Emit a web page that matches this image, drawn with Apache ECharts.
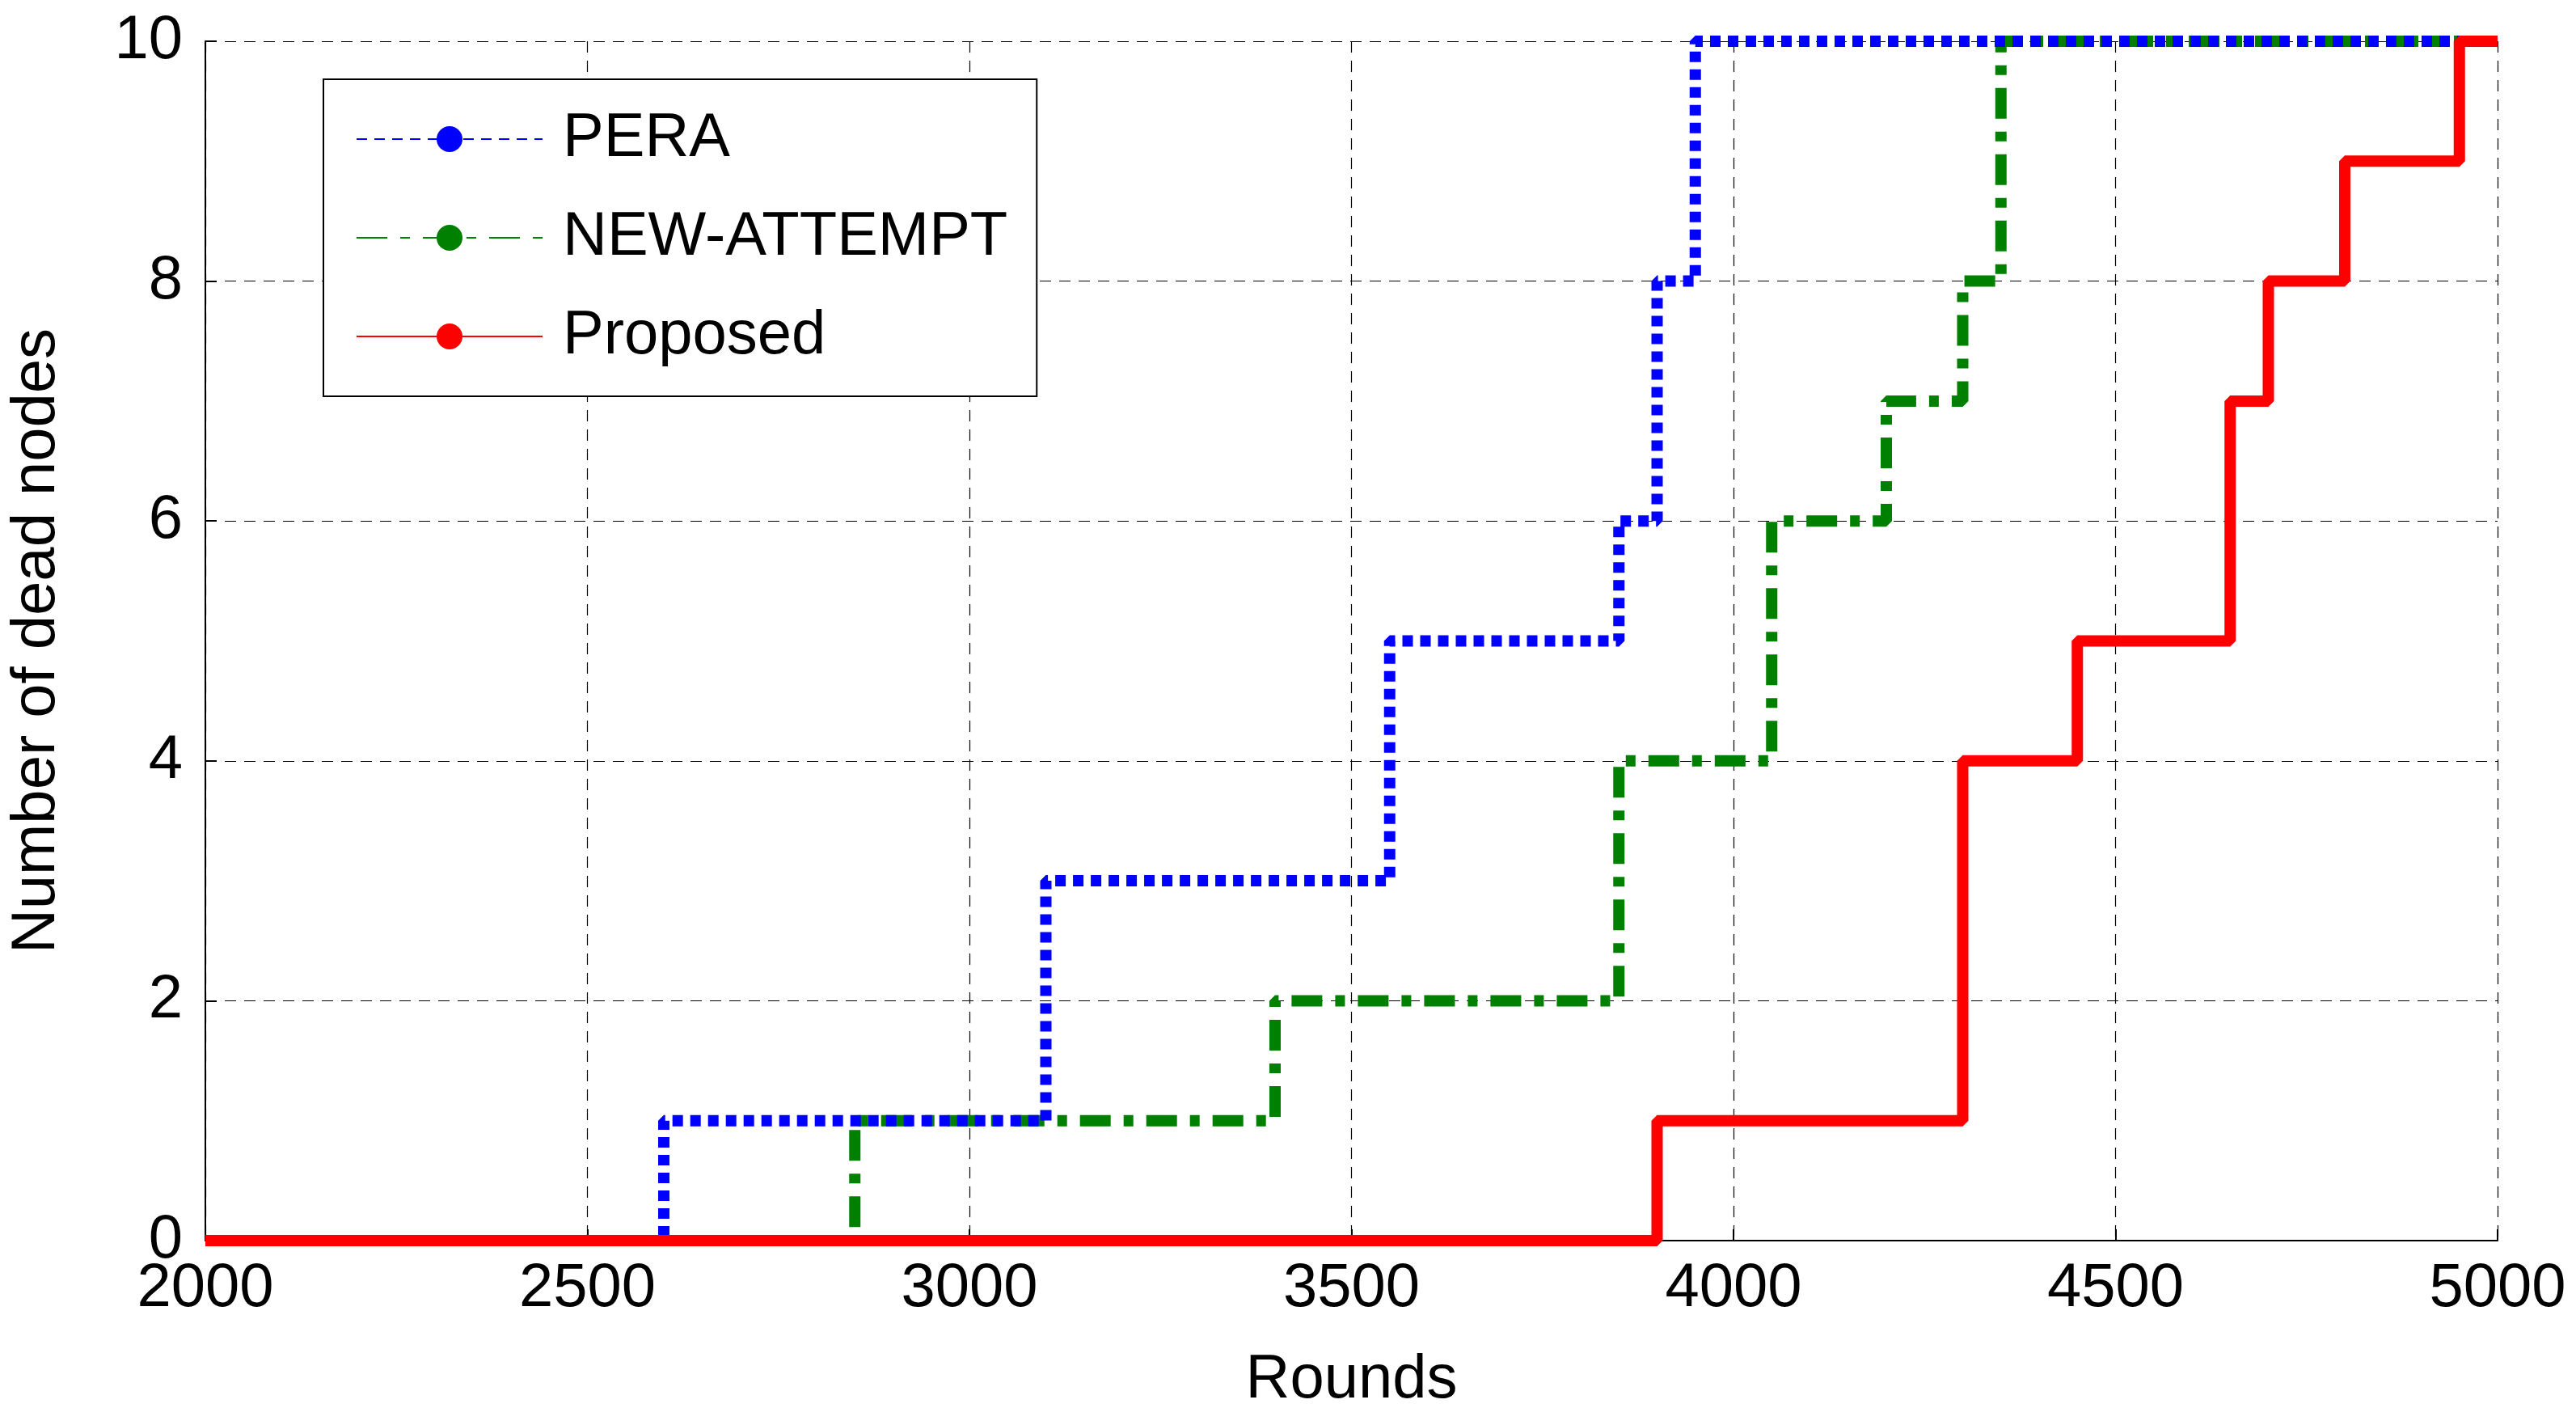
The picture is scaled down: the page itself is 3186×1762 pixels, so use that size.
<!DOCTYPE html>
<html><head><meta charset="utf-8">
<script src="https://cdn.jsdelivr.net/npm/echarts@6/dist/echarts.min.js"></script>
<style>html,body{margin:0;background:#fff}#c{width:3186px;height:1762px}</style>
</head><body><div id="c"></div>
<script>
// step data: [round, dead nodes], value holds until next point
var peraData = [[2000,0],[2600,1],[3100,3],[3550,5],[3850,6],[3900,8],[3950,10],[5000,10]];
var newAttemptData = [[2000,0],[2850,1],[3400,2],[3850,4],[4050,6],[4200,7],[4300,8],[4350,10],[5000,10]];
var proposedData = [[2000,0],[3900,1],[4300,4],[4450,5],[4650,7],[4700,8],[4800,9],[4950,10],[5000,10]];
var seriesNames = ['PERA', 'NEW-ATTEMPT', 'Proposed'];

var font = 'Liberation Sans, Arial, sans-serif';
var gridLine = {show: true, lineStyle: {color: '#000', type: [14, 10], width: 1.2}};
var axisLine = {show: true, onZero: false, lineStyle: {color: '#000', width: 2}};

var chart = echarts.init(document.getElementById('c'));
chart.setOption({
    backgroundColor: '#fff',
    animation: false,
    grid: {left: 240, right: 97, top: 51, bottom: 228, containLabel: false},
    xAxis: {
        type: 'value', min: 2000, max: 5000, interval: 500,
        name: 'Rounds', nameLocation: 'middle', nameGap: 135,
        nameTextStyle: {fontSize: 76, color: '#000', fontFamily: font},
        axisLine: axisLine, axisTick: {inside: true, length: 14, lineStyle: {color: '#000', width: 2}},
        axisLabel: {fontSize: 76, color: '#000', fontFamily: font, margin: 22, formatter: function (v) { return String(v); }},
        splitLine: gridLine
    },
    yAxis: {
        type: 'value', min: 0, max: 10, interval: 2,
        name: 'Number of dead nodes', nameLocation: 'middle', nameGap: 170,
        nameTextStyle: {fontSize: 76, color: '#000', fontFamily: font},
        axisLine: axisLine, axisTick: {inside: true, length: 14, lineStyle: {color: '#000', width: 2}},
        axisLabel: {fontSize: 76, color: '#000', fontFamily: font, margin: 28},
        splitLine: gridLine
    },
    legend: {
        orient: 'vertical', left: 400, top: 98,
        padding: [36, 36, 36, 40], itemGap: 46,
        itemWidth: 230, itemHeight: 40,
        borderColor: '#000', borderWidth: 2, backgroundColor: '#fff',
        textStyle: {fontSize: 76, color: '#000', fontFamily: font, padding: [0, 0, 0, 20]},
        data: seriesNames
    },
    series: [
        {name: seriesNames[0], type: 'line', step: 'end', data: peraData, symbol: 'none',
         lineStyle: {color: '#0000ff', width: 14, type: [13, 9], cap: 'butt'}, itemStyle: {color: '#0000ff'}, z: 3},
        {name: seriesNames[1], type: 'line', step: 'end', data: newAttemptData, symbol: 'none',
         lineStyle: {color: '#008000', width: 14, type: [38, 16, 12, 16], cap: 'butt'}, itemStyle: {color: '#008000'}, z: 2},
        {name: seriesNames[2], type: 'line', step: 'end', data: proposedData, symbol: 'none',
         lineStyle: {color: '#ff0000', width: 14}, itemStyle: {color: '#ff0000'}, z: 4}
    ]
});
</script></body></html>
